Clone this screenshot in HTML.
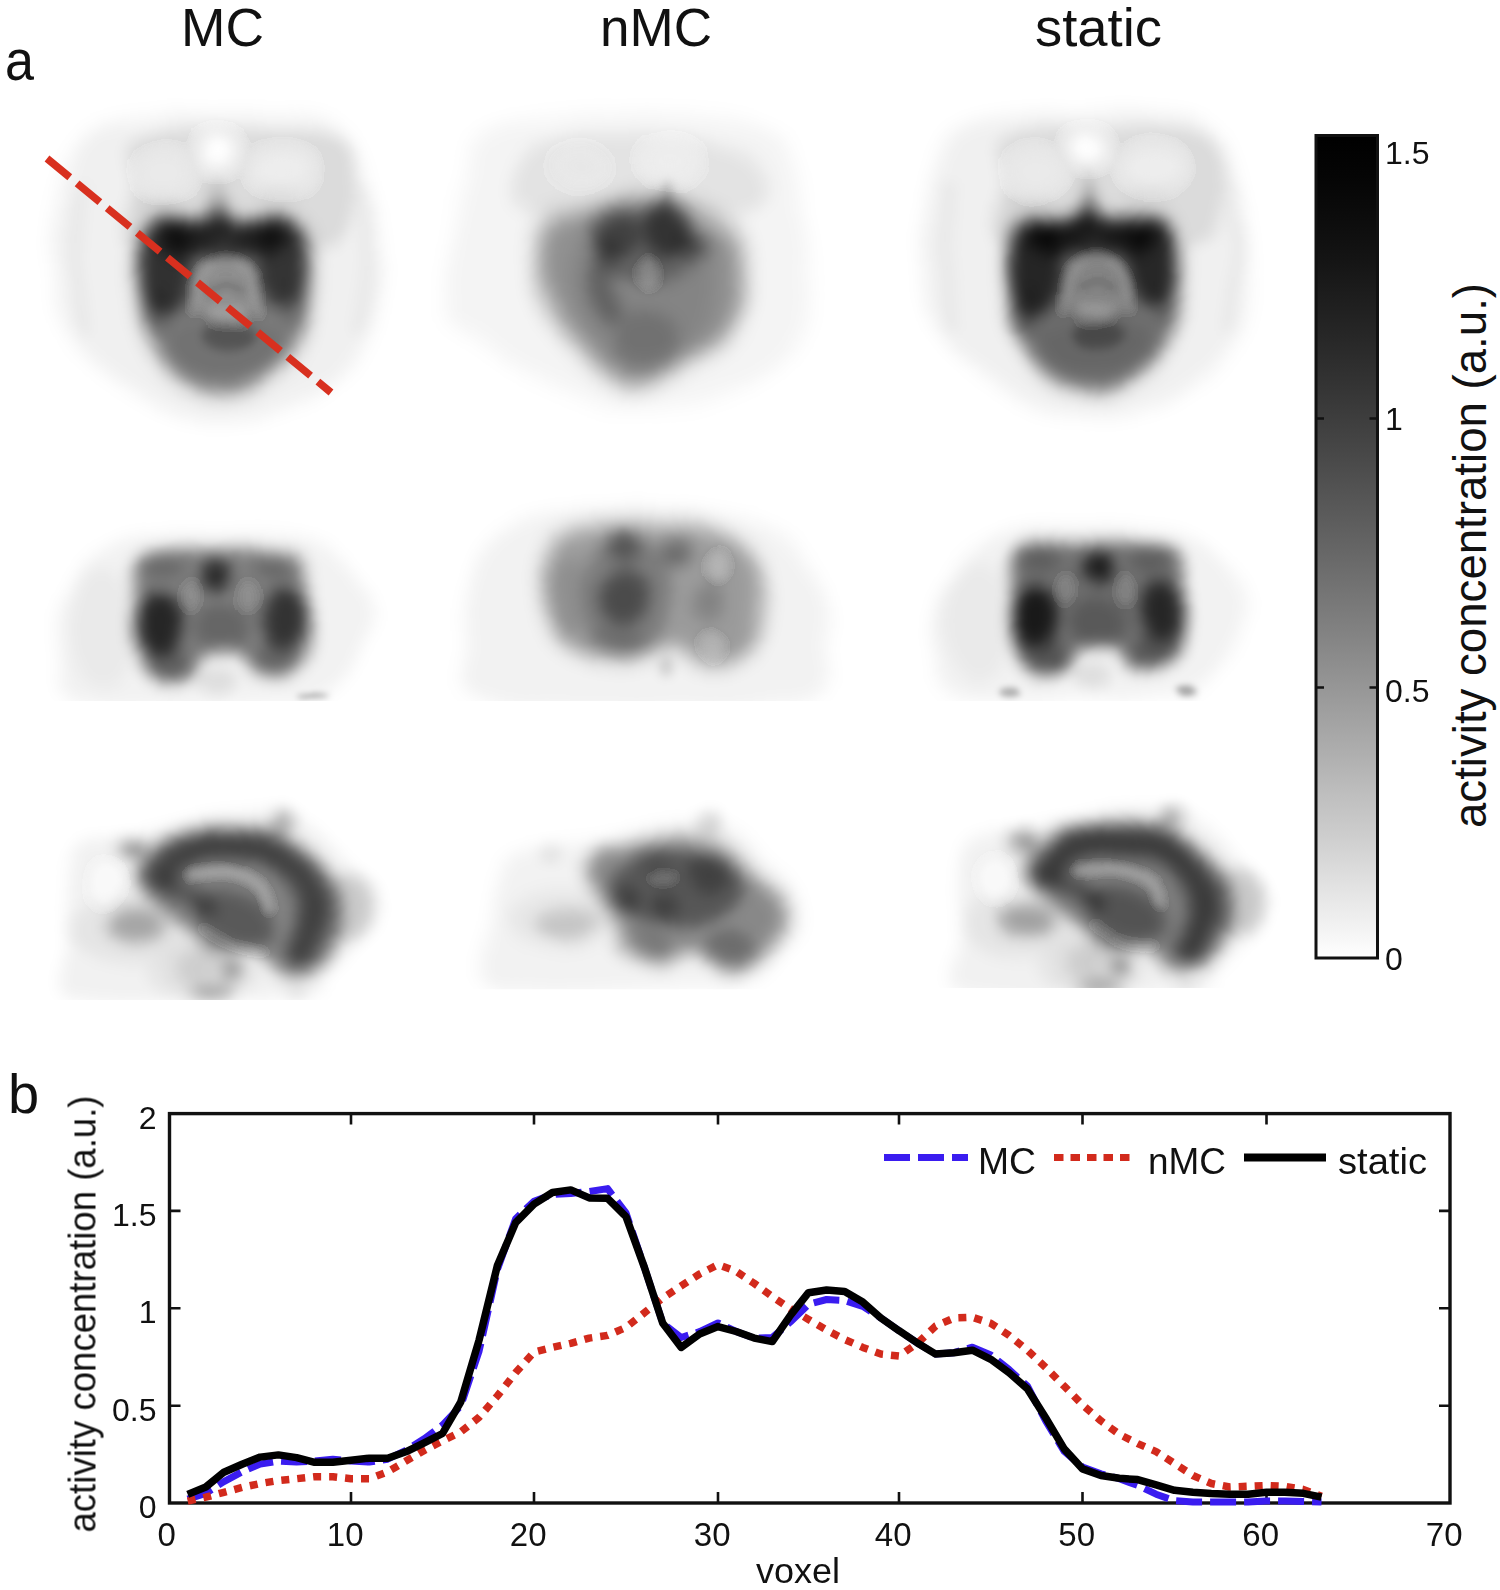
<!DOCTYPE html>
<html lang="en"><head><meta charset="utf-8"><title>Figure: MC, nMC, static</title>
<style>
html,body{margin:0;padding:0;background:#fff}
body{width:1500px;height:1590px;overflow:hidden}
svg{display:block}
text{font-family:"Liberation Sans", Arial, Helvetica, sans-serif}
</style></head><body>
<svg width="1500" height="1590" viewBox="0 0 1500 1590">
<defs>
<linearGradient id="cbg" x1="0" y1="0" x2="0" y2="1">
<stop offset="0.00" stop-color="rgb(0,0,0)"/><stop offset="0.05" stop-color="rgb(5,5,5)"/><stop offset="0.10" stop-color="rgb(12,12,12)"/><stop offset="0.15" stop-color="rgb(20,20,20)"/><stop offset="0.20" stop-color="rgb(30,30,30)"/><stop offset="0.25" stop-color="rgb(40,40,40)"/><stop offset="0.30" stop-color="rgb(51,51,51)"/><stop offset="0.35" stop-color="rgb(63,63,63)"/><stop offset="0.40" stop-color="rgb(75,75,75)"/><stop offset="0.45" stop-color="rgb(88,88,88)"/><stop offset="0.50" stop-color="rgb(101,101,101)"/><stop offset="0.55" stop-color="rgb(115,115,115)"/><stop offset="0.60" stop-color="rgb(129,129,129)"/><stop offset="0.65" stop-color="rgb(144,144,144)"/><stop offset="0.70" stop-color="rgb(159,159,159)"/><stop offset="0.75" stop-color="rgb(174,174,174)"/><stop offset="0.80" stop-color="rgb(190,190,190)"/><stop offset="0.85" stop-color="rgb(205,205,205)"/><stop offset="0.90" stop-color="rgb(222,222,222)"/><stop offset="0.95" stop-color="rgb(238,238,238)"/><stop offset="1.00" stop-color="rgb(255,255,255)"/>
</linearGradient>
</defs>
<rect width="1500" height="1590" fill="#fff"/>
<defs><filter id="b10" x="-60%" y="-60%" width="220%" height="220%"><feGaussianBlur stdDeviation="10"/></filter><filter id="b12" x="-60%" y="-60%" width="220%" height="220%"><feGaussianBlur stdDeviation="12"/></filter><filter id="b14" x="-60%" y="-60%" width="220%" height="220%"><feGaussianBlur stdDeviation="14"/></filter><filter id="b16" x="-60%" y="-60%" width="220%" height="220%"><feGaussianBlur stdDeviation="16"/></filter><filter id="b18" x="-60%" y="-60%" width="220%" height="220%"><feGaussianBlur stdDeviation="18"/></filter><filter id="b20" x="-60%" y="-60%" width="220%" height="220%"><feGaussianBlur stdDeviation="20"/></filter><filter id="b22" x="-60%" y="-60%" width="220%" height="220%"><feGaussianBlur stdDeviation="22"/></filter><filter id="b24" x="-60%" y="-60%" width="220%" height="220%"><feGaussianBlur stdDeviation="24"/></filter><filter id="b26" x="-60%" y="-60%" width="220%" height="220%"><feGaussianBlur stdDeviation="26"/></filter><filter id="b28" x="-60%" y="-60%" width="220%" height="220%"><feGaussianBlur stdDeviation="28"/></filter><filter id="b30" x="-60%" y="-60%" width="220%" height="220%"><feGaussianBlur stdDeviation="30"/></filter><filter id="b32" x="-60%" y="-60%" width="220%" height="220%"><feGaussianBlur stdDeviation="32"/></filter><filter id="b34" x="-60%" y="-60%" width="220%" height="220%"><feGaussianBlur stdDeviation="34"/></filter><filter id="b36" x="-60%" y="-60%" width="220%" height="220%"><feGaussianBlur stdDeviation="36"/></filter><filter id="b38" x="-60%" y="-60%" width="220%" height="220%"><feGaussianBlur stdDeviation="38"/></filter><filter id="b40" x="-60%" y="-60%" width="220%" height="220%"><feGaussianBlur stdDeviation="40"/></filter><clipPath id="c1"><rect x="0" y="90" width="1310" height="360"/></clipPath><clipPath id="c2"><rect x="0" y="470" width="1310" height="231"/></clipPath><clipPath id="c3"><rect x="0" y="770" width="445" height="230"/><rect x="445" y="770" width="455" height="219.3"/><rect x="900" y="770" width="410" height="218"/></clipPath><filter id="w1" x="0" y="90" width="1310" height="360" filterUnits="userSpaceOnUse"><feTurbulence type="fractalNoise" baseFrequency="0.02" numOctaves="1" seed="7" result="n"/><feDisplacementMap in="SourceGraphic" in2="n" scale="9" xChannelSelector="R" yChannelSelector="G"/><feGaussianBlur stdDeviation="2"/></filter><filter id="w2" x="0" y="470" width="1310" height="250" filterUnits="userSpaceOnUse"><feTurbulence type="fractalNoise" baseFrequency="0.02" numOctaves="1" seed="11" result="n"/><feDisplacementMap in="SourceGraphic" in2="n" scale="9" xChannelSelector="R" yChannelSelector="G"/><feGaussianBlur stdDeviation="2"/></filter><filter id="w3" x="0" y="770" width="1310" height="250" filterUnits="userSpaceOnUse"><feTurbulence type="fractalNoise" baseFrequency="0.02" numOctaves="1" seed="23" result="n"/><feDisplacementMap in="SourceGraphic" in2="n" scale="9" xChannelSelector="R" yChannelSelector="G"/><feGaussianBlur stdDeviation="2"/></filter></defs>
<g id="row1" filter="url(#w1)" clip-path="url(#c1)"><g transform="translate(30 100) scale(0.26667)"><g filter="url(#b34)"><path d="M250 100C346 59 550 56 700 55C850 54 1052 38 1150 95C1248 152 1258 299 1285 400C1312 501 1318 608 1310 700C1302 792 1292 877 1240 950C1188 1023 1090 1098 1000 1140C910 1182 792 1202 700 1200C608 1198 540 1180 450 1130C360 1080 221 988 160 900C99 812 91 700 85 600C79 500 98 383 125 300C152 217 154 141 250 100Z" fill="#000" fill-opacity="0.06"/></g><g filter="url(#b26)"><path d="M390 150C443 116 570 115 700 115C830 115 1087 94 1170 150C1253 206 1220 382 1200 450C1180 518 1183 542 1050 560C917 578 512 600 400 560C288 520 382 388 380 320C378 252 337 184 390 150Z" fill="#000" fill-opacity="0.085"/><path d="M190 330C187 375 168 512 170 600C172 688 195 817 200 860" fill="none" stroke="#000" stroke-opacity="0.04" stroke-width="40" stroke-linecap="round" stroke-linejoin="round"/><path d="M1240 330C1245 375 1272 512 1270 600C1268 688 1237 817 1230 860" fill="none" stroke="#000" stroke-opacity="0.04" stroke-width="40" stroke-linecap="round" stroke-linejoin="round"/><ellipse cx="505" cy="275" rx="95" ry="70" fill="#fff" fill-opacity="0.4"/><ellipse cx="945" cy="262" rx="105" ry="70" fill="#fff" fill-opacity="0.5"/><ellipse cx="705" cy="190" rx="62" ry="58" fill="#fff" fill-opacity="1"/><ellipse cx="480" cy="388" rx="80" ry="13" fill="#000" fill-opacity="0.12"/><ellipse cx="935" cy="352" rx="80" ry="13" fill="#000" fill-opacity="0.12"/></g><g filter="url(#b40)"><path d="M425 480C444 441 488 448 520 445C552 442 590 466 620 460C650 454 672 410 700 410C728 410 757 455 790 460C823 465 864 438 900 440C936 442 980 440 1005 470C1030 500 1045 565 1050 620C1055 675 1051 739 1035 800C1019 861 1001 935 955 985C909 1035 825 1089 760 1100C695 1111 618 1087 565 1050C512 1013 472 942 445 880C418 818 408 747 405 680C402 613 406 519 425 480Z" fill="#000" fill-opacity="0.22"/></g><g filter="url(#b28)"><path d="M425 480C444 441 488 448 520 445C552 442 590 466 620 460C650 454 672 410 700 410C728 410 757 455 790 460C823 465 864 438 900 440C936 442 980 440 1005 470C1030 500 1045 565 1050 620C1055 675 1051 739 1035 800C1019 861 1001 935 955 985C909 1035 825 1089 760 1100C695 1111 618 1087 565 1050C512 1013 472 942 445 880C418 818 408 747 405 680C402 613 406 519 425 480Z" fill="#000" fill-opacity="0.34"/><path d="M645 480C632 463 680 412 690 380C700 348 700 285 705 285C710 285 710 348 720 380C730 412 778 463 765 480C752 497 658 497 645 480Z" fill="#000" fill-opacity="0.5"/><ellipse cx="510" cy="630" rx="100" ry="185" fill="#000" fill-opacity="0.6"/><ellipse cx="945" cy="610" rx="95" ry="170" fill="#000" fill-opacity="0.58"/><ellipse cx="720" cy="515" rx="245" ry="65" fill="#000" fill-opacity="0.58"/><ellipse cx="590" cy="530" rx="90" ry="75" fill="#000" fill-opacity="0.35"/><ellipse cx="860" cy="530" rx="90" ry="75" fill="#000" fill-opacity="0.35"/><ellipse cx="470" cy="800" rx="50" ry="90" fill="#000" fill-opacity="0.22"/><ellipse cx="1000" cy="780" rx="40" ry="90" fill="#000" fill-opacity="0.18"/><ellipse cx="730" cy="930" rx="230" ry="110" fill="#000" fill-opacity="0.08"/></g><g filter="url(#b16)"><ellipse cx="735" cy="715" rx="125" ry="125" fill="#fff" fill-opacity="0.14"/><path d="M610 800C615 775 619 685 640 650C661 615 703 590 735 590C767 590 809 615 830 650C851 685 855 775 860 800" fill="none" stroke="#fff" stroke-opacity="0.2" stroke-width="28" stroke-linecap="round" stroke-linejoin="round"/><path d="M670 720C681 714 713 685 735 685C757 685 789 714 800 720" fill="none" stroke="#000" stroke-opacity="0.3" stroke-width="26" stroke-linecap="round" stroke-linejoin="round"/><ellipse cx="745" cy="885" rx="100" ry="55" fill="#000" fill-opacity="0.26"/><ellipse cx="735" cy="790" rx="70" ry="22" fill="#fff" fill-opacity="0.18"/></g></g><g transform="translate(430 100) scale(0.26667)"><g filter="url(#b36)"><path d="M240 110C345 68 587 48 760 50C933 52 1173 53 1280 120C1387 187 1377 343 1400 450C1423 557 1432 672 1420 760C1408 848 1392 920 1330 980C1268 1040 1145 1090 1050 1120C955 1150 855 1167 760 1160C665 1153 582 1127 480 1080C378 1033 220 932 150 880C80 828 63 867 60 770C57 673 100 410 130 300C160 190 135 152 240 110Z" fill="#000" fill-opacity="0.045"/></g><g filter="url(#b30)"><path d="M380 180C443 132 627 127 760 130C893 133 1107 152 1180 200C1253 248 1333 383 1200 420C1067 457 517 460 380 420C243 380 317 228 380 180Z" fill="#000" fill-opacity="0.07"/><ellipse cx="900" cy="230" rx="90" ry="60" fill="#fff" fill-opacity="0.35"/><ellipse cx="560" cy="250" rx="90" ry="50" fill="#fff" fill-opacity="0.15"/></g><g filter="url(#b40)"><path d="M440 450C482 417 573 412 650 400C727 388 822 367 900 380C978 393 1073 435 1120 480C1167 525 1177 588 1180 650C1183 712 1177 793 1140 850C1103 907 1023 953 960 990C897 1027 820 1073 760 1070C700 1067 652 1018 600 970C548 922 483 842 450 780C417 718 402 655 400 600C398 545 398 483 440 450Z" fill="#000" fill-opacity="0.4"/><ellipse cx="800" cy="680" rx="280" ry="320" fill="#000" fill-opacity="0.1"/></g><g filter="url(#b28)"><ellipse cx="820" cy="550" rx="200" ry="140" fill="#000" fill-opacity="0.26"/><ellipse cx="695" cy="500" rx="95" ry="85" fill="#000" fill-opacity="0.34"/><ellipse cx="890" cy="480" rx="90" ry="115" fill="#000" fill-opacity="0.48"/><ellipse cx="985" cy="545" rx="65" ry="50" fill="#000" fill-opacity="0.26"/><path d="M670 560C665 583 639 660 640 700C641 740 669 783 675 800" fill="none" stroke="#000" stroke-opacity="0.26" stroke-width="90" stroke-linecap="round" stroke-linejoin="round"/><ellipse cx="810" cy="900" rx="120" ry="110" fill="#000" fill-opacity="0.14"/></g><g filter="url(#b16)"><ellipse cx="820" cy="650" rx="40" ry="60" fill="#fff" fill-opacity="0.22"/><path d="M890 320C891 337 894 403 895 420" fill="none" stroke="#000" stroke-opacity="0.16" stroke-width="36" stroke-linecap="round" stroke-linejoin="round"/></g></g><g transform="translate(900 98) scale(0.26667)"><g filter="url(#b34)"><path d="M250 100C346 59 550 56 700 55C850 54 1052 38 1150 95C1248 152 1258 299 1285 400C1312 501 1318 608 1310 700C1302 792 1292 877 1240 950C1188 1023 1090 1098 1000 1140C910 1182 792 1202 700 1200C608 1198 540 1180 450 1130C360 1080 221 988 160 900C99 812 91 700 85 600C79 500 98 383 125 300C152 217 154 141 250 100Z" fill="#000" fill-opacity="0.06"/></g><g filter="url(#b26)"><path d="M390 150C443 116 570 115 700 115C830 115 1087 94 1170 150C1253 206 1220 382 1200 450C1180 518 1183 542 1050 560C917 578 512 600 400 560C288 520 382 388 380 320C378 252 337 184 390 150Z" fill="#000" fill-opacity="0.085"/><path d="M190 330C187 375 168 512 170 600C172 688 195 817 200 860" fill="none" stroke="#000" stroke-opacity="0.04" stroke-width="40" stroke-linecap="round" stroke-linejoin="round"/><path d="M1240 330C1245 375 1272 512 1270 600C1268 688 1237 817 1230 860" fill="none" stroke="#000" stroke-opacity="0.04" stroke-width="40" stroke-linecap="round" stroke-linejoin="round"/><ellipse cx="505" cy="275" rx="95" ry="70" fill="#fff" fill-opacity="0.4"/><ellipse cx="945" cy="262" rx="105" ry="70" fill="#fff" fill-opacity="0.5"/><ellipse cx="705" cy="190" rx="62" ry="58" fill="#fff" fill-opacity="1"/><ellipse cx="480" cy="388" rx="80" ry="13" fill="#000" fill-opacity="0.12"/><ellipse cx="935" cy="352" rx="80" ry="13" fill="#000" fill-opacity="0.12"/></g><g filter="url(#b40)"><path d="M425 480C444 441 488 448 520 445C552 442 590 466 620 460C650 454 672 410 700 410C728 410 757 455 790 460C823 465 864 438 900 440C936 442 980 440 1005 470C1030 500 1045 565 1050 620C1055 675 1051 739 1035 800C1019 861 1001 935 955 985C909 1035 825 1089 760 1100C695 1111 618 1087 565 1050C512 1013 472 942 445 880C418 818 408 747 405 680C402 613 406 519 425 480Z" fill="#000" fill-opacity="0.24640000000000004"/></g><g filter="url(#b28)"><path d="M425 480C444 441 488 448 520 445C552 442 590 466 620 460C650 454 672 410 700 410C728 410 757 455 790 460C823 465 864 438 900 440C936 442 980 440 1005 470C1030 500 1045 565 1050 620C1055 675 1051 739 1035 800C1019 861 1001 935 955 985C909 1035 825 1089 760 1100C695 1111 618 1087 565 1050C512 1013 472 942 445 880C418 818 408 747 405 680C402 613 406 519 425 480Z" fill="#000" fill-opacity="0.3808000000000001"/><path d="M645 480C632 463 680 412 690 380C700 348 700 285 705 285C710 285 710 348 720 380C730 412 778 463 765 480C752 497 658 497 645 480Z" fill="#000" fill-opacity="0.56"/><ellipse cx="510" cy="630" rx="100" ry="185" fill="#000" fill-opacity="0.672"/><ellipse cx="945" cy="610" rx="95" ry="170" fill="#000" fill-opacity="0.6496000000000001"/><ellipse cx="720" cy="515" rx="245" ry="65" fill="#000" fill-opacity="0.6496000000000001"/><ellipse cx="590" cy="530" rx="90" ry="75" fill="#000" fill-opacity="0.392"/><ellipse cx="860" cy="530" rx="90" ry="75" fill="#000" fill-opacity="0.392"/><ellipse cx="470" cy="800" rx="50" ry="90" fill="#000" fill-opacity="0.24640000000000004"/><ellipse cx="1000" cy="780" rx="40" ry="90" fill="#000" fill-opacity="0.2016"/><ellipse cx="730" cy="930" rx="230" ry="110" fill="#000" fill-opacity="0.08960000000000001"/></g><g filter="url(#b16)"><ellipse cx="735" cy="715" rx="125" ry="125" fill="#fff" fill-opacity="0.14"/><path d="M610 800C615 775 619 685 640 650C661 615 703 590 735 590C767 590 809 615 830 650C851 685 855 775 860 800" fill="none" stroke="#fff" stroke-opacity="0.2" stroke-width="28" stroke-linecap="round" stroke-linejoin="round"/><path d="M670 720C681 714 713 685 735 685C757 685 789 714 800 720" fill="none" stroke="#000" stroke-opacity="0.3" stroke-width="26" stroke-linecap="round" stroke-linejoin="round"/><ellipse cx="745" cy="885" rx="100" ry="55" fill="#000" fill-opacity="0.2912"/><ellipse cx="735" cy="790" rx="70" ry="22" fill="#fff" fill-opacity="0.18"/></g></g></g>
<g id="row2" filter="url(#w2)" clip-path="url(#c2)"><g transform="translate(30 490) scale(0.26667)"><g filter="url(#b30)"><path d="M330 190C425 150 578 160 700 160C822 160 967 153 1060 190C1153 227 1225 322 1260 380C1295 438 1293 477 1270 540C1247 603 1182 717 1120 760C1058 803 1053 793 900 800C747 807 332 830 200 800C68 770 122 687 110 620C98 553 93 472 130 400C167 328 235 230 330 190Z" fill="#000" fill-opacity="0.05"/><ellipse cx="270" cy="520" rx="130" ry="230" fill="#000" fill-opacity="0.035"/></g><g filter="url(#b28)"><path d="M425 245C475 212 605 220 700 220C795 220 938 212 995 245C1052 278 1038 361 1045 420C1052 479 1055 554 1040 600C1025 646 988 681 955 695C922 709 869 698 840 685C811 672 812 625 780 615C748 605 680 610 650 625C620 640 629 690 600 705C571 720 508 732 475 715C442 698 418 649 405 600C392 551 397 479 400 420C403 361 375 278 425 245Z" fill="#000" fill-opacity="0.47"/><ellipse cx="485" cy="500" rx="88" ry="118" fill="#000" fill-opacity="0.7"/><ellipse cx="955" cy="480" rx="82" ry="118" fill="#000" fill-opacity="0.6"/><ellipse cx="695" cy="318" rx="60" ry="60" fill="#000" fill-opacity="0.68"/><ellipse cx="520" cy="650" rx="100" ry="60" fill="#000" fill-opacity="0.25"/><ellipse cx="930" cy="630" rx="90" ry="55" fill="#000" fill-opacity="0.22"/><ellipse cx="720" cy="520" rx="110" ry="100" fill="#000" fill-opacity="0.2"/><ellipse cx="500" cy="290" rx="80" ry="45" fill="#000" fill-opacity="0.18"/><ellipse cx="920" cy="290" rx="80" ry="45" fill="#000" fill-opacity="0.18"/></g><g filter="url(#b20)"><ellipse cx="600" cy="400" rx="38" ry="65" fill="#fff" fill-opacity="0.12"/><ellipse cx="820" cy="400" rx="38" ry="65" fill="#fff" fill-opacity="0.12"/><ellipse cx="700" cy="720" rx="70" ry="50" fill="#000" fill-opacity="0.08"/></g><g filter="url(#b10)"><ellipse cx="1060" cy="775" rx="60" ry="9" fill="#000" fill-opacity="0.35"/></g></g><g transform="translate(440 490) scale(0.26667)"><g filter="url(#b32)"><path d="M300 110C405 70 610 58 760 60C910 62 1090 75 1200 120C1310 165 1378 257 1420 330C1462 403 1465 482 1450 560C1435 638 1538 760 1330 800C1122 840 405 840 200 800C-5 760 112 643 100 560C88 477 97 375 130 300C163 225 195 150 300 110Z" fill="#000" fill-opacity="0.05"/></g><g filter="url(#b38)"><path d="M430 190C480 133 605 137 700 130C795 123 918 127 1000 150C1082 173 1156 217 1190 270C1224 323 1212 412 1205 470C1198 528 1188 590 1150 620C1112 650 1025 655 980 650C935 645 927 592 880 590C833 588 762 638 700 640C638 642 560 628 510 600C460 572 413 538 400 470C387 402 380 247 430 190Z" fill="#000" fill-opacity="0.36"/></g><g filter="url(#b28)"><ellipse cx="700" cy="390" rx="170" ry="220" fill="#000" fill-opacity="0.2"/><ellipse cx="690" cy="400" rx="95" ry="95" fill="#000" fill-opacity="0.4"/><ellipse cx="690" cy="215" rx="60" ry="60" fill="#000" fill-opacity="0.32"/><ellipse cx="885" cy="230" rx="60" ry="55" fill="#000" fill-opacity="0.3"/><ellipse cx="1010" cy="420" rx="60" ry="70" fill="#000" fill-opacity="0.16"/><ellipse cx="660" cy="560" rx="110" ry="60" fill="#000" fill-opacity="0.12"/><ellipse cx="480" cy="400" rx="80" ry="150" fill="#000" fill-opacity="0.08"/></g><g filter="url(#b16)"><ellipse cx="1040" cy="290" rx="40" ry="55" fill="#fff" fill-opacity="0.25"/><ellipse cx="1020" cy="580" rx="45" ry="50" fill="#fff" fill-opacity="0.22"/><ellipse cx="850" cy="670" rx="25" ry="40" fill="#000" fill-opacity="0.14"/></g></g><g transform="translate(906 483) scale(0.26667)"><g filter="url(#b30)"><path d="M330 190C425 150 578 160 700 160C822 160 967 153 1060 190C1153 227 1225 322 1260 380C1295 438 1293 477 1270 540C1247 603 1182 717 1120 760C1058 803 1053 793 900 800C747 807 332 830 200 800C68 770 122 687 110 620C98 553 93 472 130 400C167 328 235 230 330 190Z" fill="#000" fill-opacity="0.05"/><ellipse cx="270" cy="520" rx="130" ry="230" fill="#000" fill-opacity="0.035"/></g><g filter="url(#b28)"><path d="M425 245C475 212 605 220 700 220C795 220 938 212 995 245C1052 278 1038 361 1045 420C1052 479 1055 554 1040 600C1025 646 988 681 955 695C922 709 869 698 840 685C811 672 812 625 780 615C748 605 680 610 650 625C620 640 629 690 600 705C571 720 508 732 475 715C442 698 418 649 405 600C392 551 397 479 400 420C403 361 375 278 425 245Z" fill="#000" fill-opacity="0.5264"/><ellipse cx="485" cy="500" rx="88" ry="118" fill="#000" fill-opacity="0.784"/><ellipse cx="955" cy="480" rx="82" ry="118" fill="#000" fill-opacity="0.672"/><ellipse cx="718" cy="318" rx="60" ry="60" fill="#000" fill-opacity="0.7616000000000002"/><ellipse cx="520" cy="650" rx="100" ry="60" fill="#000" fill-opacity="0.28"/><ellipse cx="930" cy="630" rx="90" ry="55" fill="#000" fill-opacity="0.24640000000000004"/><ellipse cx="720" cy="520" rx="110" ry="100" fill="#000" fill-opacity="0.22400000000000003"/><ellipse cx="500" cy="290" rx="80" ry="45" fill="#000" fill-opacity="0.2016"/><ellipse cx="920" cy="290" rx="80" ry="45" fill="#000" fill-opacity="0.2016"/></g><g filter="url(#b20)"><ellipse cx="600" cy="400" rx="38" ry="65" fill="#fff" fill-opacity="0.12"/><ellipse cx="820" cy="400" rx="38" ry="65" fill="#fff" fill-opacity="0.12"/><ellipse cx="700" cy="720" rx="70" ry="50" fill="#000" fill-opacity="0.08"/></g><g filter="url(#b10)"><ellipse cx="385" cy="785" rx="35" ry="18" fill="#000" fill-opacity="0.3"/><ellipse cx="1050" cy="785" rx="40" ry="18" fill="#000" fill-opacity="0.35"/></g></g></g>
<g id="row3" filter="url(#w3)" clip-path="url(#c3)"><g transform="translate(30 780) scale(0.26667)"><g filter="url(#b28)"><path d="M170 260C215 193 332 222 420 200C508 178 603 140 700 130C797 120 917 107 1000 140C1083 173 1150 273 1200 330C1250 387 1297 432 1300 480C1303 528 1252 577 1220 620C1188 663 1147 708 1110 740C1073 772 1155 797 1000 810C845 823 322 855 180 820C38 785 152 693 150 600C148 507 125 327 170 260Z" fill="#000" fill-opacity="0.055"/><ellipse cx="380" cy="560" rx="230" ry="130" fill="#000" fill-opacity="0.05"/><ellipse cx="650" cy="720" rx="200" ry="110" fill="#000" fill-opacity="0.05"/></g><g filter="url(#b28)"><path d="M395 320C420 287 491 224 550 200C609 176 683 174 750 175C817 176 892 178 950 205C1008 232 1062 289 1100 335C1138 381 1168 432 1175 480C1182 528 1162 581 1145 620C1128 659 1108 696 1075 715C1042 734 988 746 950 735C912 724 892 664 850 650C808 636 742 663 700 650C658 637 637 600 600 570C563 540 513 498 480 470C447 442 414 425 400 400C386 375 370 353 395 320Z" fill="#000" fill-opacity="0.46"/><path d="M475 365C492 350 534 295 580 275C626 255 692 243 750 245C808 247 882 259 930 285C978 311 1018 358 1040 400C1062 442 1065 498 1060 540C1055 582 1018 632 1010 650" fill="none" stroke="#000" stroke-opacity="0.5" stroke-width="105" stroke-linecap="round" stroke-linejoin="round"/><path d="M520 400C533 405 577 417 600 430C623 443 650 472 660 480" fill="none" stroke="#000" stroke-opacity="0.38" stroke-width="70" stroke-linecap="round" stroke-linejoin="round"/><ellipse cx="770" cy="520" rx="160" ry="95" fill="#000" fill-opacity="0.32" transform="rotate(20 770 520)"/><ellipse cx="1190" cy="480" rx="110" ry="120" fill="#000" fill-opacity="0.16"/><ellipse cx="950" cy="160" rx="38" ry="34" fill="#000" fill-opacity="0.36"/><ellipse cx="385" cy="255" rx="55" ry="30" fill="#000" fill-opacity="0.45"/><ellipse cx="400" cy="545" rx="105" ry="65" fill="#000" fill-opacity="0.28"/><ellipse cx="750" cy="715" rx="34" ry="30" fill="#000" fill-opacity="0.5"/><ellipse cx="680" cy="795" rx="80" ry="24" fill="#000" fill-opacity="0.34"/><ellipse cx="1000" cy="795" rx="40" ry="18" fill="#000" fill-opacity="0.14"/><ellipse cx="620" cy="700" rx="80" ry="70" fill="#000" fill-opacity="0.1"/></g><g filter="url(#b14)"><path d="M600 358C625 356 706 341 750 348C794 355 840 378 865 400C890 422 894 467 900 480" fill="none" stroke="#fff" stroke-opacity="0.3" stroke-width="34" stroke-linecap="round" stroke-linejoin="round"/><ellipse cx="280" cy="390" rx="55" ry="80" fill="#fff" fill-opacity="0.6"/><path d="M650 560C668 570 722 607 760 620C798 633 860 637 880 640" fill="none" stroke="#fff" stroke-opacity="0.12" stroke-width="30" stroke-linecap="round" stroke-linejoin="round"/></g></g><g transform="translate(460 780) scale(0.26667)"><g filter="url(#b32)"><path d="M180 290C235 242 353 250 450 230C547 210 668 178 760 170C852 162 927 150 1000 180C1073 210 1152 293 1200 350C1248 407 1290 470 1290 520C1290 570 1235 610 1200 650C1165 690 1147 738 1080 760C1013 782 958 777 800 780C642 783 243 823 130 780C17 737 112 602 120 520C128 438 125 338 180 290Z" fill="#000" fill-opacity="0.05"/><ellipse cx="380" cy="520" rx="200" ry="110" fill="#000" fill-opacity="0.05"/></g><g filter="url(#b34)"><path d="M480 310C498 275 570 255 640 240C710 225 827 205 900 220C973 235 1025 283 1080 330C1135 377 1218 448 1230 500C1242 552 1187 603 1150 640C1113 677 1055 720 1010 720C965 720 925 645 880 640C835 635 785 698 740 690C695 682 645 630 610 590C575 550 552 497 530 450C508 403 462 345 480 310Z" fill="#000" fill-opacity="0.44"/></g><g filter="url(#b26)"><ellipse cx="810" cy="410" rx="250" ry="140" fill="#000" fill-opacity="0.36"/><ellipse cx="620" cy="450" rx="55" ry="55" fill="#000" fill-opacity="0.25"/><ellipse cx="770" cy="470" rx="55" ry="50" fill="#000" fill-opacity="0.25"/><ellipse cx="930" cy="355" rx="75" ry="75" fill="#000" fill-opacity="0.25"/><ellipse cx="720" cy="295" rx="70" ry="45" fill="#000" fill-opacity="0.15"/><ellipse cx="1010" cy="640" rx="100" ry="80" fill="#000" fill-opacity="0.2"/><ellipse cx="680" cy="620" rx="110" ry="60" fill="#000" fill-opacity="0.12"/><ellipse cx="400" cy="535" rx="110" ry="55" fill="#000" fill-opacity="0.14"/><ellipse cx="930" cy="165" rx="42" ry="42" fill="#000" fill-opacity="0.16"/><ellipse cx="540" cy="270" rx="40" ry="30" fill="#000" fill-opacity="0.12"/><ellipse cx="340" cy="275" rx="40" ry="25" fill="#000" fill-opacity="0.1"/></g><g filter="url(#b14)"><ellipse cx="760" cy="370" rx="60" ry="25" fill="#fff" fill-opacity="0.14"/></g></g><g transform="translate(920 775) scale(0.26667)"><g filter="url(#b28)"><path d="M170 260C215 193 332 222 420 200C508 178 603 140 700 130C797 120 917 107 1000 140C1083 173 1150 273 1200 330C1250 387 1297 432 1300 480C1303 528 1252 577 1220 620C1188 663 1147 708 1110 740C1073 772 1155 797 1000 810C845 823 322 855 180 820C38 785 152 693 150 600C148 507 125 327 170 260Z" fill="#000" fill-opacity="0.055"/><ellipse cx="380" cy="560" rx="230" ry="130" fill="#000" fill-opacity="0.05"/><ellipse cx="650" cy="720" rx="200" ry="110" fill="#000" fill-opacity="0.05"/></g><g filter="url(#b28)"><path d="M395 320C420 287 491 224 550 200C609 176 683 174 750 175C817 176 892 178 950 205C1008 232 1062 289 1100 335C1138 381 1168 432 1175 480C1182 528 1162 581 1145 620C1128 659 1108 696 1075 715C1042 734 988 746 950 735C912 724 892 664 850 650C808 636 742 663 700 650C658 637 637 600 600 570C563 540 513 498 480 470C447 442 414 425 400 400C386 375 370 353 395 320Z" fill="#000" fill-opacity="0.48300000000000004"/><path d="M475 365C492 350 534 295 580 275C626 255 692 243 750 245C808 247 882 259 930 285C978 311 1018 358 1040 400C1062 442 1065 498 1060 540C1055 582 1018 632 1010 650" fill="none" stroke="#000" stroke-opacity="0.525" stroke-width="105" stroke-linecap="round" stroke-linejoin="round"/><path d="M520 400C533 405 577 417 600 430C623 443 650 472 660 480" fill="none" stroke="#000" stroke-opacity="0.399" stroke-width="70" stroke-linecap="round" stroke-linejoin="round"/><ellipse cx="770" cy="520" rx="160" ry="95" fill="#000" fill-opacity="0.336" transform="rotate(20 770 520)"/><ellipse cx="1190" cy="480" rx="110" ry="120" fill="#000" fill-opacity="0.168"/><ellipse cx="950" cy="160" rx="38" ry="34" fill="#000" fill-opacity="0.378"/><ellipse cx="385" cy="255" rx="55" ry="30" fill="#000" fill-opacity="0.47250000000000003"/><ellipse cx="400" cy="545" rx="105" ry="65" fill="#000" fill-opacity="0.29400000000000004"/><ellipse cx="750" cy="715" rx="34" ry="30" fill="#000" fill-opacity="0.525"/><ellipse cx="680" cy="795" rx="80" ry="24" fill="#000" fill-opacity="0.35700000000000004"/><ellipse cx="1000" cy="795" rx="40" ry="18" fill="#000" fill-opacity="0.14700000000000002"/><ellipse cx="620" cy="700" rx="80" ry="70" fill="#000" fill-opacity="0.10500000000000001"/></g><g filter="url(#b14)"><path d="M600 358C625 356 706 341 750 348C794 355 840 378 865 400C890 422 894 467 900 480" fill="none" stroke="#fff" stroke-opacity="0.3" stroke-width="34" stroke-linecap="round" stroke-linejoin="round"/><ellipse cx="280" cy="390" rx="55" ry="80" fill="#fff" fill-opacity="0.6"/><path d="M650 560C668 570 722 607 760 620C798 633 860 637 880 640" fill="none" stroke="#fff" stroke-opacity="0.12" stroke-width="30" stroke-linecap="round" stroke-linejoin="round"/></g></g></g>

<path d="M47 158.5L331 392.5" stroke="#d8301f" stroke-width="7.5" stroke-dasharray="29.5 9.5" fill="none"/>
<text x="5" y="80" font-size="58" text-anchor="start" fill="#111" textLength="29" lengthAdjust="spacingAndGlyphs" >a</text>
<text x="8" y="1113" font-size="56" text-anchor="start" fill="#111" >b</text>
<text x="181" y="45.5" font-size="54" text-anchor="start" fill="#111" textLength="83" lengthAdjust="spacingAndGlyphs" >MC</text>
<text x="600" y="46" font-size="53" text-anchor="start" fill="#111" textLength="112" lengthAdjust="spacingAndGlyphs" >nMC</text>
<text x="1035" y="45.5" font-size="53" text-anchor="start" fill="#111" textLength="127" lengthAdjust="spacingAndGlyphs" >static</text>
<rect x="1316" y="135.5" width="61.5" height="822.5" fill="url(#cbg)" stroke="#111" stroke-width="3"/>
<path d="M1316 418.5h8M1377.5 418.5h-8" stroke="#111" stroke-width="2.5" fill="none"/>
<path d="M1316 687.5h8M1377.5 687.5h-8" stroke="#111" stroke-width="2.5" fill="none"/>
<text x="1385" y="163.5" font-size="32" text-anchor="start" fill="#111" >1.5</text>
<text x="1385" y="430.0" font-size="32" text-anchor="start" fill="#111" >1</text>
<text x="1385" y="701.5" font-size="32" text-anchor="start" fill="#111" >0.5</text>
<text x="1385" y="969.5" font-size="32" text-anchor="start" fill="#111" >0</text>
<text x="1486" y="828" font-size="46" text-anchor="start" fill="#111" textLength="545" lengthAdjust="spacingAndGlyphs" transform="rotate(-90 1486 828)" >activity concentration (a.u.)</text>
<rect x="169.5" y="1113.6" width="1280.5" height="389.4000000000001" fill="none" stroke="#111" stroke-width="3.4"/>
<path d="M351.0 1503v-11M351.0 1113.6v11M534.0 1503v-11M534.0 1113.6v11M718.0 1503v-11M718.0 1113.6v11M899.0 1503v-11M899.0 1113.6v11M1082.5 1503v-11M1082.5 1113.6v11M1266.5 1503v-11M1266.5 1113.6v11M169.5 1405.7h11M1450 1405.7h-11M169.5 1308.3h11M1450 1308.3h-11M169.5 1210.9h11M1450 1210.9h-11" stroke="#111" stroke-width="2.6" fill="none"/>
<text x="166.7" y="1546" font-size="33" text-anchor="middle" fill="#111" >0</text>
<text x="345.2" y="1546" font-size="33" text-anchor="middle" fill="#111" >10</text>
<text x="528.2" y="1546" font-size="33" text-anchor="middle" fill="#111" >20</text>
<text x="712.2" y="1546" font-size="33" text-anchor="middle" fill="#111" >30</text>
<text x="893.2" y="1546" font-size="33" text-anchor="middle" fill="#111" >40</text>
<text x="1076.7" y="1546" font-size="33" text-anchor="middle" fill="#111" >50</text>
<text x="1260.7" y="1546" font-size="33" text-anchor="middle" fill="#111" >60</text>
<text x="1444.2" y="1546" font-size="33" text-anchor="middle" fill="#111" >70</text>
<text x="156.5" y="1518.0" font-size="32" text-anchor="end" fill="#111" >0</text>
<text x="156.5" y="1420.7" font-size="32" text-anchor="end" fill="#111" >0.5</text>
<text x="156.5" y="1323.3" font-size="32" text-anchor="end" fill="#111" >1</text>
<text x="156.5" y="1225.9" font-size="32" text-anchor="end" fill="#111" >1.5</text>
<text x="156.5" y="1128.6" font-size="32" text-anchor="end" fill="#111" >2</text>
<text x="756" y="1583" font-size="35" text-anchor="start" fill="#111" textLength="84" lengthAdjust="spacingAndGlyphs" >voxel</text>
<text x="95" y="1532.5" font-size="39" text-anchor="start" fill="#111" textLength="437" lengthAdjust="spacingAndGlyphs" transform="rotate(-90 95 1532.5)" >activity concentration (a.u.)</text>
<polyline points="187.7,1499.1 205.8,1493.3 223.9,1481.6 242.1,1471.8 260.2,1464.1 278.4,1461.1 296.6,1462.1 314.7,1461.1 332.9,1459.2 351.0,1461.1 369.3,1462.1 387.6,1459.2 405.9,1450.4 424.2,1438.7 442.5,1425.1 460.8,1405.7 479.1,1351.1 497.4,1269.4 515.7,1218.7 534.0,1201.2 552.4,1194.4 570.8,1193.4 589.2,1191.5 607.6,1188.6 626.0,1212.9 644.4,1267.4 662.8,1323.3 681.2,1337.5 699.6,1331.7 718.0,1322.9 736.1,1331.5 754.2,1338.1 772.3,1337.5 790.4,1321.9 808.5,1304.4 826.6,1299.5 844.7,1300.5 862.8,1306.4 880.9,1318.0 899.0,1330.7 917.4,1343.0 935.7,1354.1 954.0,1352.7 972.4,1347.2 990.8,1355.0 1009.1,1369.6 1027.5,1386.2 1045.8,1421.2 1064.2,1451.4 1082.5,1467.0 1100.9,1473.8 1119.3,1478.7 1137.7,1485.5 1156.1,1494.2 1174.5,1500.7 1192.9,1502.0 1211.3,1502.0 1229.7,1502.0 1248.1,1502.0 1266.5,1501.1 1284.8,1501.1 1303.2,1501.4 1321.5,1502.0" fill="none" stroke="#3a1cf0" stroke-width="7" stroke-dasharray="26 8" stroke-linejoin="round"/>
<polyline points="187.7,1501.1 205.8,1497.2 223.9,1492.3 242.1,1487.4 260.2,1483.5 278.4,1480.6 296.6,1478.7 314.7,1476.7 332.9,1476.7 351.0,1478.7 369.3,1478.7 387.6,1471.8 405.9,1461.1 424.2,1450.4 442.5,1440.7 460.8,1431.9 479.1,1417.3 497.4,1395.9 515.7,1372.6 534.0,1352.1 552.4,1347.4 570.8,1343.3 589.2,1338.1 607.6,1335.4 626.0,1327.4 644.4,1312.8 662.8,1298.0 681.2,1285.9 699.6,1274.0 718.0,1264.7 736.1,1271.3 754.2,1283.4 772.3,1296.6 790.4,1308.7 808.5,1319.4 826.6,1330.1 844.7,1339.5 862.8,1347.4 880.9,1354.1 899.0,1356.0 917.4,1343.3 935.7,1326.0 954.0,1318.0 972.4,1317.3 990.8,1323.3 1009.1,1335.4 1027.5,1350.2 1045.8,1367.5 1064.2,1386.2 1082.5,1404.9 1100.9,1420.8 1119.3,1434.3 1137.7,1443.6 1156.1,1451.6 1174.5,1463.5 1192.9,1475.5 1211.3,1483.5 1229.7,1487.0 1248.1,1486.3 1266.5,1485.5 1284.8,1486.3 1303.2,1489.4 1321.5,1496.2" fill="none" stroke="#d22a1c" stroke-width="7.5" stroke-dasharray="8 8" stroke-linejoin="round"/>
<polyline points="187.7,1494.4 205.8,1487.0 223.9,1472.2 242.1,1464.3 260.2,1457.1 278.4,1454.9 296.6,1457.6 314.7,1462.3 332.9,1462.3 351.0,1460.2 369.3,1458.2 387.6,1458.2 405.9,1451.8 424.2,1442.8 442.5,1433.5 460.8,1401.8 479.1,1340.0 497.4,1265.5 515.7,1222.6 534.0,1204.1 552.4,1192.5 570.8,1189.9 589.2,1197.9 607.6,1198.3 626.0,1216.6 644.4,1267.4 662.8,1323.3 681.2,1347.4 699.6,1334.0 718.0,1326.6 736.1,1331.5 754.2,1338.1 772.3,1341.6 790.4,1315.3 808.5,1292.7 826.6,1290.0 844.7,1291.4 862.8,1302.1 880.9,1318.0 899.0,1330.7 917.4,1343.0 935.7,1354.1 954.0,1352.7 972.4,1350.2 990.8,1359.3 1009.1,1372.7 1027.5,1388.9 1045.8,1418.1 1064.2,1448.9 1082.5,1468.9 1100.9,1475.5 1119.3,1478.3 1137.7,1479.6 1156.1,1484.9 1174.5,1490.3 1192.9,1492.3 1211.3,1493.5 1229.7,1494.2 1248.1,1494.2 1266.5,1492.3 1284.8,1492.3 1303.2,1493.3 1321.5,1497.2" fill="none" stroke="#000" stroke-width="7.5" stroke-linejoin="round" stroke-linecap="butt"/>
<path d="M884 1157.5H968" stroke="#3a1cf0" stroke-width="7" stroke-dasharray="26 8" fill="none"/>
<path d="M1054 1157.5H1130" stroke="#d22a1c" stroke-width="7" stroke-dasharray="9.5 7" fill="none"/>
<path d="M1244 1157.5H1326" stroke="#000" stroke-width="8" fill="none"/>
<text x="978" y="1174" font-size="37" text-anchor="start" fill="#111" textLength="58" lengthAdjust="spacingAndGlyphs" >MC</text>
<text x="1148" y="1174" font-size="37" text-anchor="start" fill="#111" textLength="78" lengthAdjust="spacingAndGlyphs" >nMC</text>
<text x="1338" y="1174" font-size="37" text-anchor="start" fill="#111" textLength="89" lengthAdjust="spacingAndGlyphs" >static</text>
</svg>
</body></html>
